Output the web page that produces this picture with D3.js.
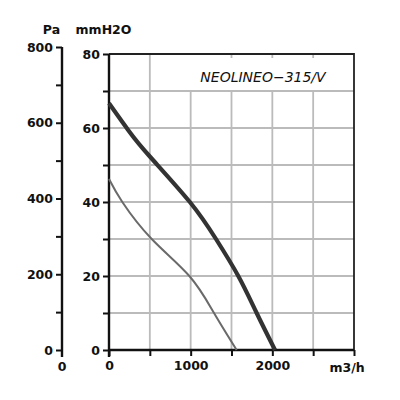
<!DOCTYPE html>
<html>
<head>
<meta charset="utf-8">
<script src="https://cdn.jsdelivr.net/npm/d3@7"></script>
<style>
  body { margin: 0; background: #fff; }
  svg text { font-family: "DejaVu Sans", sans-serif; font-weight: bold; fill: #111; }
</style>
</head>
<body>
<div class="container"></div>
<script>
// curve readings, flow m3/h vs pressure mmH2O
const highFlow = [0, 250, 500, 990, 1310, 1583, 1808, 2033];
const highPres = [66.7, 59, 52.3, 40, 30, 20, 10, 0];
const lowFlow = [0, 163, 523, 984, 1286, 1563];
const lowPres = [46.2, 40, 30, 20, 10, 0];

const flowTicks = [0, 1000, 2000];
const mmTicks = [0, 20, 40, 60, 80];
const paTicks = [0, 200, 400, 600, 800];
const title = 'NEOLINEO\u2212315/V';

const svg = d3.select('div.container').append('svg')
	.attr('width', 400)
	.attr('height', 400);

const x = d3.scaleLinear().domain([0, 3000]).range([109, 354]);
const y = d3.scaleLinear().domain([0, 80]).range([350, 54]);
const yPa = d3.scaleLinear().domain([0, 800]).range([350, 47]);

// grid
const grid = svg.append('g').attr('stroke', '#bbb').attr('stroke-width', 1.8);
grid.selectAll('.hgrid')
	.data(d3.range(10, 80, 10))
	.enter()
	.append('line')
	.attr('x1', x(0)).attr('x2', x(3000))
	.attr('y1', d => y(d)).attr('y2', d => y(d));
grid.selectAll('.vgrid')
	.data(d3.range(500, 3000, 500))
	.enter()
	.append('line')
	.attr('x1', d => x(d)).attr('x2', d => x(d))
	.attr('y1', y(0))
	.attr('y2', d => d >= 1000 ? y(70) : y(80));
// little marks under the top frame where the title box sits
grid.selectAll('.topmark')
	.data([1500, 2000, 2500])
	.enter()
	.append('line')
	.attr('x1', d => x(d)).attr('x2', d => x(d))
	.attr('y1', y(80)).attr('y2', y(80) + 4);

// frame
svg.append('path')
	.attr('d', `M${x(0)},${y(80)}H${x(3000)}V${y(0)}`)
	.attr('fill', 'none')
	.attr('stroke', '#222')
	.attr('stroke-width', 1.8);

// mmH2O axis
const yAxis = d3.axisLeft(y).tickValues(d3.range(0, 90, 10)).tickSize(6).tickFormat(d => mmTicks.includes(d) ? d : '');
const ga = svg.append('g').attr('transform', `translate(${x(0)},0)`).call(yAxis);
ga.select('.domain').attr('d', `M-0,${y(80)}V${y(0) + 7}`);

// flow axis
const xAxis = d3.axisBottom(x).tickValues(d3.range(0, 3500, 500)).tickSize(6).tickFormat(d => flowTicks.includes(d) ? d : '');
const gx = svg.append('g').attr('transform', `translate(0,${y(0)})`).call(xAxis);
gx.select('.domain').attr('d', `M${x(0)},0H${x(3000)}`);

// Pa axis
const paAxis = d3.axisLeft(yPa).tickValues(d3.range(0, 900, 100)).tickSize(6).tickFormat(d => paTicks.includes(d) ? d : '');
const gp = svg.append('g').attr('transform', 'translate(62,0)').call(paAxis);
gp.select('.domain').attr('d', `M0,${yPa(800)}V${yPa(0) + 7}`);

[ga, gx, gp].forEach(g => {
	g.select('.domain').attr('stroke', '#111').attr('stroke-width', 2.4);
	g.selectAll('.tick line').attr('stroke', '#111').attr('stroke-width', 2);
	g.selectAll('.tick text').style('font-size', '12.5px').attr('fill', '#111');
});
gx.selectAll('.tick text').attr('dy', '0.85em');

svg.append('text').attr('x', 62).attr('y', 371).attr('text-anchor', 'middle').style('font-size', '12.5px').text('0');
svg.append('text').attr('x', 51.5).attr('y', 34).attr('text-anchor', 'middle').style('font-size', '12.5px').text('Pa');
svg.append('text').attr('x', 103.5).attr('y', 34).attr('text-anchor', 'middle').style('font-size', '12.5px').text('mmH2O');
svg.append('text').attr('x', 347).attr('y', 372).attr('text-anchor', 'middle').style('font-size', '12.5px').text('m3/h');
svg.append('text').attr('x', 263).attr('y', 82).attr('text-anchor', 'middle')
	.style('font-size', '14px').style('font-style', 'italic').style('font-weight', 'normal')
	.text(title);

// curves
const line = d3.line()
	.x(d => x(d[0]))
	.y(d => y(d[1]))
	.curve(d3.curveNatural);

svg.append('path')
	.datum(d3.zip(lowFlow, lowPres))
	.attr('d', line)
	.attr('fill', 'none')
	.attr('stroke', '#6a6a6a')
	.attr('stroke-width', 2);
svg.append('path')
	.datum(d3.zip(highFlow, highPres))
	.attr('d', line)
	.attr('fill', 'none')
	.attr('stroke', '#333')
	.attr('stroke-width', 4.2);
</script>
</body>
</html>
